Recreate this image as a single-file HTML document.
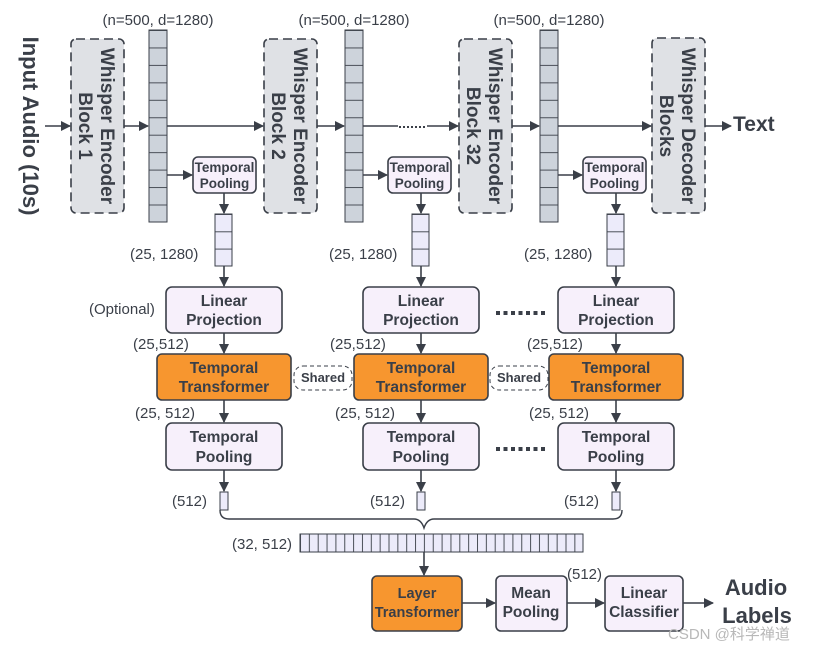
<!DOCTYPE html>
<html><head><meta charset="utf-8"><style>
html,body{margin:0;padding:0;background:#fff;}
svg{display:block;font-family:"Liberation Sans",Arial,sans-serif;}
.l{font-size:15px;fill:#3a3f48;}
.b{font-size:15.5px;font-weight:bold;fill:#3a3f48;}
.s{font-size:13.5px;font-weight:bold;fill:#3a3f48;}
.w{font-size:19px;font-weight:bold;fill:#3a3f48;}
</style></head><body>
<svg width="817" height="651" viewBox="0 0 817 651" xmlns="http://www.w3.org/2000/svg">
<defs>
<marker id="a" markerWidth="10" markerHeight="10" refX="9" refY="5" orient="auto" markerUnits="userSpaceOnUse">
<path d="M0,0 L10,5 L0,10 z" fill="#3a3f48"/></marker>
<pattern id="pc" x="0" y="30" width="18" height="17.45" patternUnits="userSpaceOnUse">
<rect width="18" height="17.45" fill="#cdd3db"/><line x1="0" y1="0.5" x2="18" y2="0.5" stroke="#4a4f58" stroke-width="1"/></pattern>
<pattern id="ps" x="0" y="214" width="17" height="17.3" patternUnits="userSpaceOnUse">
<rect width="17" height="17.3" fill="#ecebfa"/><line x1="0" y1="0.5" x2="17" y2="0.5" stroke="#4a4f58" stroke-width="1"/></pattern>
<pattern id="pr" x="300" y="0" width="8.85" height="20" patternUnits="userSpaceOnUse">
<rect width="8.85" height="20" fill="#ecebfa"/><line x1="0.5" y1="0" x2="0.5" y2="20" stroke="#4a4f58" stroke-width="1"/></pattern>
</defs>
<g stroke="#3a3f48" stroke-width="1.6">
<text class="w" transform="translate(23,126) rotate(90)" text-anchor="middle" stroke="none" style="font-size:22px">Input Audio (10s)</text>
<line x1="45" y1="126" x2="70" y2="126" marker-end="url(#a)"/>
<rect x="71" y="39" width="53" height="174" rx="5" fill="#dfe1e5" stroke-dasharray="9,5"/>
<rect x="264" y="39" width="53" height="174" rx="5" fill="#dfe1e5" stroke-dasharray="9,5"/>
<rect x="459" y="39" width="53" height="174" rx="5" fill="#dfe1e5" stroke-dasharray="9,5"/>
<rect x="652" y="38" width="53" height="175" rx="5" fill="#dfe1e5" stroke-dasharray="9,5"/>
<g stroke="none">
<text class="w" transform="translate(97,126) rotate(90)" text-anchor="middle"><tspan x="0" dy="-4">Whisper Encoder</tspan><tspan x="0" dy="22">Block 1</tspan></text>
<text class="w" transform="translate(290,126) rotate(90)" text-anchor="middle"><tspan x="0" dy="-4">Whisper Encoder</tspan><tspan x="0" dy="22">Block 2</tspan></text>
<text class="w" transform="translate(485,126) rotate(90)" text-anchor="middle"><tspan x="0" dy="-4">Whisper Encoder</tspan><tspan x="0" dy="22">Block 32</tspan></text>
<text class="w" transform="translate(678,126) rotate(90)" text-anchor="middle"><tspan x="0" dy="-4">Whisper Decoder</tspan><tspan x="0" dy="22">Blocks</tspan></text>
<text class="l" x="158" y="25" text-anchor="middle">(n=500, d=1280)</text>
<text class="l" x="354" y="25" text-anchor="middle">(n=500, d=1280)</text>
<text class="l" x="549" y="25" text-anchor="middle">(n=500, d=1280)</text>
<text class="w" x="733" y="131" style="font-size:21px">Text</text>
</g>
<rect x="149" y="30" width="18" height="192" fill="url(#pc)" stroke-width="1"/>
<rect x="345" y="30" width="18" height="192" fill="url(#pc)" stroke-width="1"/>
<rect x="540" y="30" width="18" height="192" fill="url(#pc)" stroke-width="1"/>
<line x1="124" y1="126" x2="148" y2="126" marker-end="url(#a)"/>
<line x1="167" y1="126" x2="263" y2="126" marker-end="url(#a)"/>
<line x1="317" y1="126" x2="344" y2="126" marker-end="url(#a)"/>
<line x1="363" y1="126" x2="398" y2="126"/>
<line x1="399" y1="127" x2="426" y2="127" stroke-dasharray="2,2" stroke-width="2"/>
<line x1="427" y1="126" x2="458" y2="126" marker-end="url(#a)"/>
<line x1="512" y1="126" x2="539" y2="126" marker-end="url(#a)"/>
<line x1="558" y1="126" x2="651" y2="126" marker-end="url(#a)"/>
<line x1="705" y1="126" x2="731" y2="126" marker-end="url(#a)"/>
<line x1="167" y1="175" x2="192" y2="175" marker-end="url(#a)"/>
<line x1="363" y1="175" x2="387" y2="175" marker-end="url(#a)"/>
<line x1="558" y1="175" x2="582" y2="175" marker-end="url(#a)"/>
<rect x="193" y="157" width="63" height="36" rx="5" fill="#f7f0fb"/>
<rect x="388" y="157" width="63" height="36" rx="5" fill="#f7f0fb"/>
<rect x="583" y="157" width="63" height="36" rx="5" fill="#f7f0fb"/>
<g stroke="none" text-anchor="middle">
<text class="s" x="224.5" y="172">Temporal</text><text class="s" x="224.5" y="188">Pooling</text>
<text class="s" x="419.5" y="172">Temporal</text><text class="s" x="419.5" y="188">Pooling</text>
<text class="s" x="614.5" y="172">Temporal</text><text class="s" x="614.5" y="188">Pooling</text>
</g>
<line x1="224" y1="193" x2="224" y2="213" marker-end="url(#a)"/>
<line x1="421" y1="193" x2="421" y2="213" marker-end="url(#a)"/>
<line x1="616" y1="193" x2="616" y2="213" marker-end="url(#a)"/>
<rect x="215" y="214" width="17" height="52" fill="url(#ps)" stroke-width="1"/>
<rect x="412" y="214" width="17" height="52" fill="url(#ps)" stroke-width="1"/>
<rect x="607" y="214" width="17" height="52" fill="url(#ps)" stroke-width="1"/>
<g stroke="none">
<text class="l" x="130" y="259">(25, 1280)</text>
<text class="l" x="329" y="259">(25, 1280)</text>
<text class="l" x="524" y="259">(25, 1280)</text>
<text class="l" x="89" y="314">(Optional)</text>
<text class="l" x="133" y="349">(25,512)</text>
<text class="l" x="330" y="349">(25,512)</text>
<text class="l" x="527" y="349">(25,512)</text>
<text class="l" x="135" y="418">(25, 512)</text>
<text class="l" x="335" y="418">(25, 512)</text>
<text class="l" x="529" y="418">(25, 512)</text>
<text class="l" x="172" y="506">(512)</text>
<text class="l" x="370" y="506">(512)</text>
<text class="l" x="564" y="506">(512)</text>
<text class="l" x="232" y="549">(32, 512)</text>
<text class="l" x="567" y="579">(512)</text>
</g>
<line x1="224" y1="266" x2="224" y2="286" marker-end="url(#a)"/>
<line x1="421" y1="266" x2="421" y2="286" marker-end="url(#a)"/>
<line x1="616" y1="266" x2="616" y2="286" marker-end="url(#a)"/>
<rect x="166" y="287" width="116" height="46" rx="6" fill="#f7f0fb"/>
<rect x="363" y="287" width="116" height="46" rx="6" fill="#f7f0fb"/>
<rect x="558" y="287" width="116" height="46" rx="6" fill="#f7f0fb"/>
<line x1="496" y1="313" x2="548" y2="313" stroke-dasharray="4,3.5" stroke-width="4"/>
<line x1="496" y1="449" x2="548" y2="449" stroke-dasharray="4,3.5" stroke-width="4"/>
<g stroke="none" text-anchor="middle">
<text class="b" x="224" y="306">Linear</text><text class="b" x="224" y="325">Projection</text>
<text class="b" x="421" y="306">Linear</text><text class="b" x="421" y="325">Projection</text>
<text class="b" x="616" y="306">Linear</text><text class="b" x="616" y="325">Projection</text>
</g>
<line x1="224" y1="333" x2="224" y2="353" marker-end="url(#a)"/>
<line x1="421" y1="333" x2="421" y2="353" marker-end="url(#a)"/>
<line x1="616" y1="333" x2="616" y2="353" marker-end="url(#a)"/>
<rect x="157" y="354" width="134" height="46" rx="5" fill="#f7962f"/>
<rect x="354" y="354" width="134" height="46" rx="5" fill="#f7962f"/>
<rect x="549" y="354" width="134" height="46" rx="5" fill="#f7962f"/>
<rect x="294" y="366" width="58" height="24" rx="9" fill="#fff" stroke-width="1" stroke-dasharray="4,3"/>
<rect x="490" y="366" width="58" height="24" rx="9" fill="#fff" stroke-width="1" stroke-dasharray="4,3"/>
<g stroke="none" text-anchor="middle">
<text class="b" x="224" y="373">Temporal</text><text class="b" x="224" y="392">Transformer</text>
<text class="b" x="421" y="373">Temporal</text><text class="b" x="421" y="392">Transformer</text>
<text class="b" x="616" y="373">Temporal</text><text class="b" x="616" y="392">Transformer</text>
<text class="s" x="323" y="382" style="font-size:13px">Shared</text>
<text class="s" x="519" y="382" style="font-size:13px">Shared</text>
</g>
<line x1="224" y1="400" x2="224" y2="422" marker-end="url(#a)"/>
<line x1="421" y1="400" x2="421" y2="422" marker-end="url(#a)"/>
<line x1="616" y1="400" x2="616" y2="422" marker-end="url(#a)"/>
<rect x="166" y="423" width="116" height="47" rx="6" fill="#f7f0fb"/>
<rect x="363" y="423" width="116" height="47" rx="6" fill="#f7f0fb"/>
<rect x="558" y="423" width="116" height="47" rx="6" fill="#f7f0fb"/>
<g stroke="none" text-anchor="middle">
<text class="b" x="224" y="442">Temporal</text><text class="b" x="224" y="462">Pooling</text>
<text class="b" x="421" y="442">Temporal</text><text class="b" x="421" y="462">Pooling</text>
<text class="b" x="616" y="442">Temporal</text><text class="b" x="616" y="462">Pooling</text>
</g>
<line x1="224" y1="470" x2="224" y2="491" marker-end="url(#a)"/>
<line x1="421" y1="470" x2="421" y2="491" marker-end="url(#a)"/>
<line x1="616" y1="470" x2="616" y2="491" marker-end="url(#a)"/>
<rect x="220" y="492" width="8" height="18" fill="#ecebfa" stroke-width="1"/>
<rect x="417" y="492" width="8" height="18" fill="#ecebfa" stroke-width="1"/>
<rect x="612" y="492" width="8" height="18" fill="#ecebfa" stroke-width="1"/>
<path d="M220,510 Q220,519 229,519 L414,519 Q421,519 424,528 Q427,519 434,519 L613,519 Q622,519 622,510" fill="none" stroke-width="1.4"/>
<rect x="300" y="534" width="283" height="18" fill="url(#pr)" stroke-width="1"/>
<line x1="424" y1="552" x2="424" y2="575" marker-end="url(#a)"/>
<rect x="372" y="576" width="90" height="55" rx="5" fill="#f7962f"/>
<rect x="496" y="576" width="71" height="55" rx="5" fill="#f7f0fb"/>
<rect x="605" y="576" width="78" height="55" rx="5" fill="#f7f0fb"/>
<line x1="462" y1="603" x2="495" y2="603" marker-end="url(#a)"/>
<line x1="567" y1="603" x2="604" y2="603" marker-end="url(#a)"/>
<line x1="683" y1="603" x2="713" y2="603" marker-end="url(#a)"/>
<g stroke="none" text-anchor="middle">
<text class="b" x="417" y="598" style="font-size:14.5px">Layer</text><text class="b" x="417" y="617" style="font-size:14.5px">Transformer</text>
<text class="b" x="531" y="598">Mean</text><text class="b" x="531" y="617">Pooling</text>
<text class="b" x="644" y="598">Linear</text><text class="b" x="644" y="617">Classifier</text>
<text class="w" x="756" y="595" style="font-size:22px">Audio</text>
<text class="w" x="757" y="623" style="font-size:22px">Labels</text>
</g>
<text x="668" y="639" stroke="none" fill="#b8b8b8" style="font-size:15px;font-family:'Liberation Sans','Noto Sans CJK SC',sans-serif">CSDN @科学禅道</text>
</g>
</svg>
</body></html>
